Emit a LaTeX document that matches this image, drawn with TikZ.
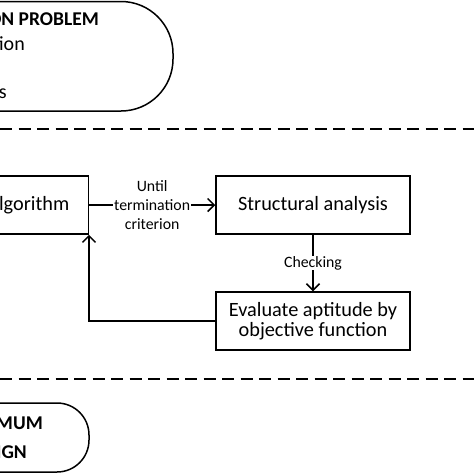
\documentclass[tikz,border=0pt]{standalone}
\usepackage{fontspec}
\setmainfont{Carlito}
\usetikzlibrary{arrows.meta,positioning}
\tikzset{
  box/.style={draw=black, line width=1.5pt, rectangle, minimum width=194pt, minimum height=58pt, inner sep=0pt, align=center, font=\fontsize{20.3}{20.5}\selectfont},
  pill/.style={draw=black, line width=1.5pt, rectangle, inner sep=0pt},
  headtxt/.style={anchor=base east, inner sep=0pt, font=\fontsize{19.5}{21}\selectfont\bfseries},
  bodytxt/.style={anchor=base east, inner sep=0pt, font=\fontsize{20}{21}\selectfont},
  lbl/.style={fill=white, inner xsep=1pt, inner ysep=0pt, align=center, font=\fontsize{15.8}{19}\selectfont},
  conn/.style={line width=1.5pt, draw=black},
  arr/.style={conn, -{Straight Barb[length=6.5pt, width=13pt, line width=1.5pt]}},
  sep/.style={line width=2.2pt, dash pattern=on 12pt off 6.5pt}
}
\begin{document}
\begin{tikzpicture}[x=1pt, y=-1pt]
\useasboundingbox (0,0) rectangle (474,474);
\clip (0,0) rectangle (474,474);
\fill[white] (0,0) rectangle (474,474);

% top problem box
\node[pill, rounded corners=52pt, minimum width=323pt, minimum height=109.5pt] (prob) at (11.5,56.25) {};
\node[headtxt] (probA) at (99,25) {OPTIMIZATION PROBLEM};
\node[bodytxt] (probB) at (25,50) {Objective function};
\node[bodytxt] (probC) at (7,98) {Design variables};

% separators
\draw[sep] (0,129.3) -- (474,129.3);
\draw[sep] (0,379) -- (474,379);

% algorithm loop
\node[box, anchor=east, minimum width=0pt, text width=210pt, inner xsep=19pt, align=right] (ga) at (89,205) {Genetic algorithm};
\node[box] (sa) at (313,205) {Structural analysis};
\node[box] (ev) at (313,321) {Evaluate aptitude by\\objective function};

\draw[arr] (ga.east) -- node[lbl] (until) {Until\\termination\\criterion} (sa.west);
\draw[arr] (sa.south) -- node[lbl] (chk) {Checking} (ev.north);
\draw[arr] (ev.west) -| (ga.south east);

% bottom optimum box
\node[pill, rounded corners=32pt, minimum width=289pt, minimum height=69pt] (opt) at (-55.5,437.5) {};
\node[headtxt] (optA) at (43,429) {OPTIMUM};
\node[headtxt] (optB) at (27,458) {DESIGN};
\end{tikzpicture}
\end{document}
